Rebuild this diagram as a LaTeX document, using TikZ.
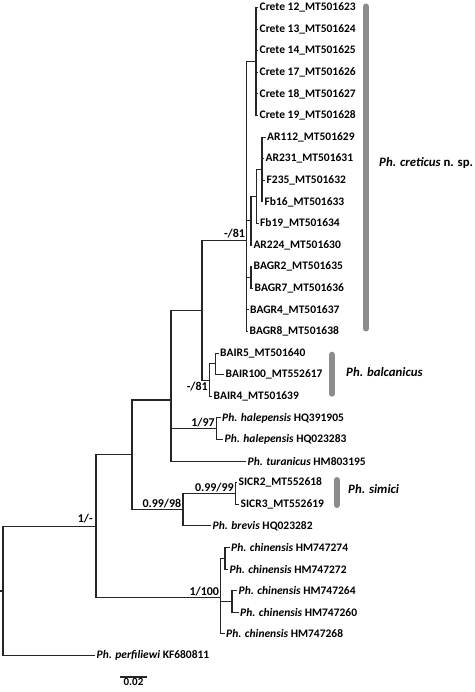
\documentclass[tikz,border=0pt]{standalone}
\usepackage{fontspec}
\setmainfont{Carlito}
\usepackage{tikz}
\usetikzlibrary{calc}

\newcommand{\taxon}[2]{\textit{#1} #2}

\begin{document}
\begin{tikzpicture}[x=1pt, y=-1pt,
        leaf/.style={anchor=west, inner sep=1.5pt, font=\fontsize{11.5}{13}\selectfont\bfseries},
        branch/.style={line width=1.1pt, draw=black!85},
        support/.style={anchor=south east, inner sep=1.5pt, font=\fontsize{12}{14}\selectfont\bfseries},
        cladebar/.style={line width=6pt, line cap=round, draw=black!45},
        cladename/.style={anchor=west, inner sep=0pt, font=\fontsize{12.8}{15}\selectfont\bfseries}
    ]
    \useasboundingbox (0,0) rectangle (474,692);

    % --- internal nodes ---
    \coordinate (nRoot)  at (3, 591);
    \coordinate (rootStub) at (0, 591);
    \coordinate (nF)     at (96, 526.4);
    \coordinate (nE)     at (132, 454.9);
    \coordinate (nC)     at (171, 400);
    \coordinate (nB)     at (202, 310.2);
    \coordinate (nCret)  at (246.7, 240.2);
    \coordinate (nCrete) at (256, 61.5);
    \coordinate (nAR)    at (251, 220.8);
    \coordinate (nAR5)   at (256.7, 196.5);
    \coordinate (nAR4)   at (262, 169.5);
    \coordinate (nBAGR)  at (251, 277.5);
    \coordinate (nBAIR)  at (209.5, 380.1);
    \coordinate (nBAIRi) at (215.5, 363.9);
    \coordinate (nHal)   at (216.5, 428.7);
    \coordinate (nD)     at (183, 509.7);
    \coordinate (nSim)   at (235.5, 493.5);
    \coordinate (nG)     at (220.7, 597.9);
    \coordinate (nCh1)   at (225, 558.3);
    \coordinate (nCh2)   at (232, 601.5);

    % --- leaves ---
    \node[leaf] (c12)   at (258, 7.5)   {Crete 12\_MT501623};
    \node[leaf] (c13)   at (258, 29.1)  {Crete 13\_MT501624};
    \node[leaf] (c14)   at (258, 50.7)  {Crete 14\_MT501625};
    \node[leaf] (c17)   at (258, 72.3)  {Crete 17\_MT501626};
    \node[leaf] (c18)   at (258, 93.9)  {Crete 18\_MT501627};
    \node[leaf] (c19)   at (258, 115.5) {Crete 19\_MT501628};
    \node[leaf] (ar112) at (265.5, 137.1) {AR112\_MT501629};
    \node[leaf] (ar231) at (264, 158.7)   {AR231\_MT501631};
    \node[leaf] (f235)  at (265, 180.3)   {F235\_MT501632};
    \node[leaf] (fb16)  at (263, 201.9)   {Fb16\_MT501633};
    \node[leaf] (fb19)  at (258.5, 223.5) {Fb19\_MT501634};
    \node[leaf] (ar224) at (251.8, 245.1) {AR224\_MT501630};
    \node[leaf] (bagr2) at (252, 266.7)   {BAGR2\_MT501635};
    \node[leaf] (bagr7) at (253, 288.3)   {BAGR7\_MT501636};
    \node[leaf] (bagr4) at (248.5, 309.9) {BAGR4\_MT501637};
    \node[leaf] (bagr8) at (248, 331.5)   {BAGR8\_MT501638};
    \node[leaf] (bair5)   at (218.5, 353.1) {BAIR5\_MT501640};
    \node[leaf] (bair100) at (224, 374.7)   {BAIR100\_MT552617};
    \node[leaf] (bair4)   at (212, 396.3)   {BAIR4\_MT501639};
    \node[leaf] (hal1)  at (220.5, 417.9) {\taxon{Ph. halepensis}{HQ391905}};
    \node[leaf] (hal2)  at (223, 439.5)   {\taxon{Ph. halepensis}{HQ023283}};
    \node[leaf] (tur)   at (246, 461.1)   {\taxon{Ph. turanicus}{HM803195}};
    \node[leaf] (sicr2) at (237, 482.7)   {SICR2\_MT552618};
    \node[leaf] (sicr3) at (239, 504.3)   {SICR3\_MT552619};
    \node[leaf] (brev)  at (211, 525.9)   {\taxon{Ph. brevis}{HQ023282}};
    \node[leaf] (chin1) at (229.5, 547.5) {\taxon{Ph. chinensis}{HM747274}};
    \node[leaf] (chin2) at (228, 569.1)   {\taxon{Ph. chinensis}{HM747272}};
    \node[leaf] (chin3) at (237, 590.7)   {\taxon{Ph. chinensis}{HM747264}};
    \node[leaf] (chin4) at (238.5, 612.3) {\taxon{Ph. chinensis}{HM747260}};
    \node[leaf] (chin5) at (224.5, 633.9) {\taxon{Ph. chinensis}{HM747268}};
    \node[leaf] (perf)  at (95, 655.5)    {\taxon{Ph. perfiliewi}{KF680811}};

    % --- branches ---
    \draw[branch] (rootStub) -- (nRoot);
    \draw[branch] (nRoot) |- (nF);
    \draw[branch] (nRoot) |- (perf.west);
    \draw[branch] (nF) |- (nE);
    \draw[branch] (nF) |- (nG);
    \draw[branch] (nE) |- (nC);
    \draw[branch] (nE) |- (nD);
    \draw[branch] (nC) |- (nB);
    \draw[branch] (nC) |- (nHal);
    \draw[branch] (nC) |- (tur.west);
    \draw[branch] (nB) |- (nCret);
    \draw[branch] (nB) |- (nBAIR);
    \draw[branch] (nCret) |- (nCrete);
    \draw[branch] (nCret) |- (nAR);
    \draw[branch] (nCret) |- (nBAGR);
    \draw[branch] (nCret) |- (bagr4.west);
    \draw[branch] (nCret) |- (bagr8.west);
    \draw[branch] (nCrete) |- (c12.west);
    \draw[branch] (nCrete) |- (c13.west);
    \draw[branch] (nCrete) |- (c14.west);
    \draw[branch] (nCrete) |- (c17.west);
    \draw[branch] (nCrete) |- (c18.west);
    \draw[branch] (nCrete) |- (c19.west);
    \draw[branch] (nAR) |- (nAR5);
    \draw[branch] (nAR) |- (ar224.west);
    \draw[branch] (nAR5) |- (nAR4);
    \draw[branch] (nAR5) |- (fb19.west);
    \draw[branch] (nAR4) |- (ar112.west);
    \draw[branch] (nAR4) |- (ar231.west);
    \draw[branch] (nAR4) |- (f235.west);
    \draw[branch] (nAR4) |- (fb16.west);
    \draw[branch] (nBAGR) |- (bagr2.west);
    \draw[branch] (nBAGR) |- (bagr7.west);
    \draw[branch] (nBAIR) |- (nBAIRi);
    \draw[branch] (nBAIR) |- (bair4.west);
    \draw[branch] (nBAIRi) |- (bair5.west);
    \draw[branch] (nBAIRi) |- (bair100.west);
    \draw[branch] (nHal) |- (hal1.west);
    \draw[branch] (nHal) |- (hal2.west);
    \draw[branch] (nD) |- (nSim);
    \draw[branch] (nD) |- (brev.west);
    \draw[branch] (nSim) |- (sicr2.west);
    \draw[branch] (nSim) |- (sicr3.west);
    \draw[branch] (nG) |- (nCh1);
    \draw[branch] (nG) |- (nCh2);
    \draw[branch] (nG) |- (chin5.west);
    \draw[branch] (nCh1) |- (chin1.west);
    \draw[branch] (nCh1) |- (chin2.west);
    \draw[branch] (nCh2) |- (chin3.west);
    \draw[branch] (nCh2) |- (chin4.west);

    % --- support values ---
    \node[support] (sCret) at (nCret) {-/81};
    \node[support, anchor=north east] (sBAIR) at (nBAIR) {-/81};
    \node[support] (sHal) at (nHal) {1/97};
    \node[support] (sSim) at (nSim) {0.99/99};
    \node[support] (sD) at (nD) {0.99/98};
    \node[support] (sG) at (nG) {1/100};
    \node[support, inner sep=3pt] (sF) at (nF) {1/-};

    % --- clade bars ---
    \coordinate (cretTop) at (366, 6.5);
    \coordinate (cretBot) at (366, 328.5);
    \coordinate (balcTop) at (331.7, 354.7);
    \coordinate (balcBot) at (331.7, 393.7);
    \coordinate (simTop)  at (336.7, 480);
    \coordinate (simBot)  at (336.7, 505);
    \draw[cladebar] (cretTop) -- (cretBot);
    \draw[cladebar] (balcTop) -- (balcBot);
    \draw[cladebar] (simTop) -- (simBot);
    \node[cladename] (lCret) at (379, 163) {\textit{Ph. creticus} n. sp.};
    \node[cladename] (lBalc) at (346, 372) {\textit{Ph. balcanicus}};
    \node[cladename] (lSim)  at (348, 489) {\textit{Ph. simici}};

    % --- scale bar ---
    \coordinate (scaleL) at (120, 677);
    \coordinate (scaleR) at (147, 677);
    \draw[branch] (scaleL) -- (scaleR);
    \node[font=\fontsize{11}{13}\selectfont\bfseries, anchor=north, inner sep=1pt] (scaleLab) at ($(scaleL)!0.5!(scaleR)$) {0.02};
\end{tikzpicture}
\end{document}
